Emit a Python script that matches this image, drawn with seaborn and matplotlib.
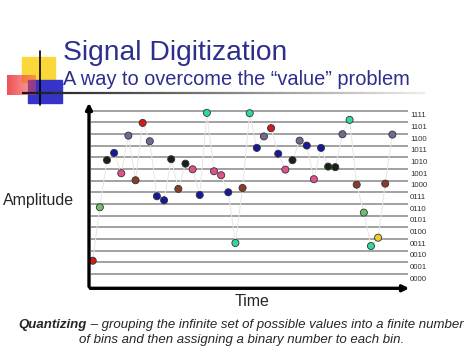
import numpy as np
import pandas as pd
import seaborn as sns
import matplotlib.pyplot as plt
from matplotlib.patches import Rectangle
from matplotlib.collections import LineCollection

# sample values (in units of quantization levels) and their marker colours
sample_level = [2.14, 6.72, 10.75, 11.37, 9.63, 12.85, 9.03, 13.94, 12.37, 7.66,
                7.32, 10.83, 8.29, 10.45, 9.97, 7.77, 14.80, 9.80, 9.46, 8.00,
                3.66, 8.37, 14.77, 11.80, 12.78, 13.49, 11.30, 9.94, 10.75, 12.42,
                12.00, 9.12, 11.80, 10.20, 10.15, 12.97, 14.20, 8.65, 6.26, 3.40,
                4.11, 8.74, 12.94]
sample_color = ["red", "green", "black", "blue", "pink", "slate", "brown", "red", "slate", "blue",
                "blue", "black", "brown", "black", "pink", "blue", "teal", "pink", "pink", "blue",
                "teal", "brown", "teal", "blue", "slate", "red", "blue", "pink", "black", "slate",
                "blue", "pink", "blue", "black", "black", "slate", "teal", "brown", "green", "teal",
                "yellow", "brown", "slate"]
bin_labels = ["1111", "1101", "1100", "1011", "1010", "1001", "1000", "0111",
              "0110", "0101", "0100", "0011", "0010", "0001", "0000"]

palette = {"red": "#d01c1c", "green": "#6cc06c", "black": "#142414", "blue": "#18189a",
           "pink": "#e0508c", "slate": "#6c6c90", "brown": "#8a3c2c", "teal": "#2ed8a0",
           "yellow": "#f0cc30"}

W, H = 474, 355
navy = "#2e2e8c"

sns.set_style("white")
plt.rcParams['font.family'] = ['Liberation Sans', 'DejaVu Sans']

fig = plt.figure(figsize=(W / 100, H / 100), dpi=100)


def fx(px):
    return px / W


def fy(py):
    return 1 - py / H


# plot area in pixels: x 89..412, y 100..288
ax = fig.add_axes([fx(89), fy(288.3), fx(412) - fx(89), fy(100) - fy(288.3)])
ax.set_xlim(-0.52, 44.75)
ax.set_ylim(-0.22, 15.9)
ax.axis("off")

n_levels = len(bin_labels)
levels = np.arange(1, n_levels + 1)
ax.hlines(levels, -0.3, 44.2, color="#9a9a9a", lw=1.3, zorder=1)

df = pd.DataFrame({"t": np.arange(len(sample_level)), "level": sample_level, "c": sample_color})
sns.lineplot(data=df, x="t", y="level", color="#e6e6e6", lw=0.7, ax=ax, zorder=2)
sns.scatterplot(data=df, x="t", y="level", hue="c", palette=palette, s=26,
                edgecolor="#333333", linewidth=0.6, legend=False, ax=ax, zorder=3)
ax.set_xlabel("")
ax.set_ylabel("")

for lvl, lab in zip(levels[::-1], bin_labels):
    ax.text(44.5, lvl - 0.45, lab, fontsize=5.7, color="#333333", ha="left", va="center")

# axes with arrows
ax.annotate("", xy=(0, 1.0), xytext=(0, -0.005), xycoords="axes fraction",
            arrowprops=dict(arrowstyle="-|>", lw=2.4, color="black", mutation_scale=9),
            annotation_clip=False)
ax.annotate("", xy=(1.0, 0), xytext=(-0.005, 0), xycoords="axes fraction",
            arrowprops=dict(arrowstyle="-|>", lw=2.4, color="black", mutation_scale=9),
            annotation_clip=False)

# titles
fig.text(fx(63), fy(60), "Signal Digitization", fontsize=20.3, color=navy, ha="left", va="baseline")
fig.text(fx(63), fy(85), "A way to overcome the \u201cvalue\u201d problem", fontsize=14.4,
         color=navy, ha="left", va="baseline")

# decoration at the top left
fig.add_artist(Rectangle((fx(22), fy(82)), fx(33), fy(57) - fy(82), transform=fig.transFigure,
                         color="#fbd83a", zorder=1))
fig.add_artist(Rectangle((fx(28), fy(103)), fx(34), fy(80) - fy(103), transform=fig.transFigure,
                         color="#3434c8", zorder=1))
# red block fading to the right
red_ax = fig.add_axes([fx(7), fy(95), fx(29), fy(75) - fy(95)], zorder=2)
fade = np.ones((2, 32, 4))
fade[..., 0], fade[..., 1], fade[..., 2] = 0.94, 0.28, 0.28
fade[..., 3] = np.linspace(0.95, 0.45, 32)[None, :]
red_ax.imshow(fade, aspect="auto", interpolation="bilinear")
red_ax.axis("off")
fig.add_artist(plt.Line2D([fx(40), fx(40)], [fy(51), fy(105)], transform=fig.transFigure,
                          color="black", lw=1.2, zorder=5))
xs = np.linspace(fx(22), fx(425), 41)
segs = [[(xs[i], fy(93)), (xs[i + 1], fy(93))] for i in range(len(xs) - 1)]
shade = np.linspace(0.1, 0.92, len(segs))
fig.add_artist(LineCollection(segs, colors=[(g, g, g) for g in shade], lw=1.6,
                              transform=fig.transFigure, zorder=5))

# axis labels
fig.text(fx(39), fy(201), "Amplitude", fontsize=11.5, ha="center", va="center")
fig.text(fx(252), fy(301), "Time", fontsize=11.5, ha="center", va="center")

# caption
fig.canvas.draw()
r = fig.canvas.get_renderer()
cap_size = 9.5
t1 = fig.text(0, fy(325), "Quantizing", fontsize=cap_size, fontweight="bold", fontstyle="italic",
              va="center", ha="left")
t2 = fig.text(0, fy(325), " \u2013 grouping the infinite set of possible values into a finite number",
              fontsize=cap_size, fontstyle="italic", va="center", ha="left")
w1 = t1.get_window_extent(r).width
w2 = t2.get_window_extent(r).width
x0 = 241 - (w1 + w2) / 2
t1.set_x(fx(x0))
t2.set_x(fx(x0 + w1))
fig.text(fx(242), fy(340), "of bins and then assigning a binary number to each bin.",
         fontsize=cap_size, fontstyle="italic", ha="center", va="center")

fig.savefig("out.png", dpi=100)
